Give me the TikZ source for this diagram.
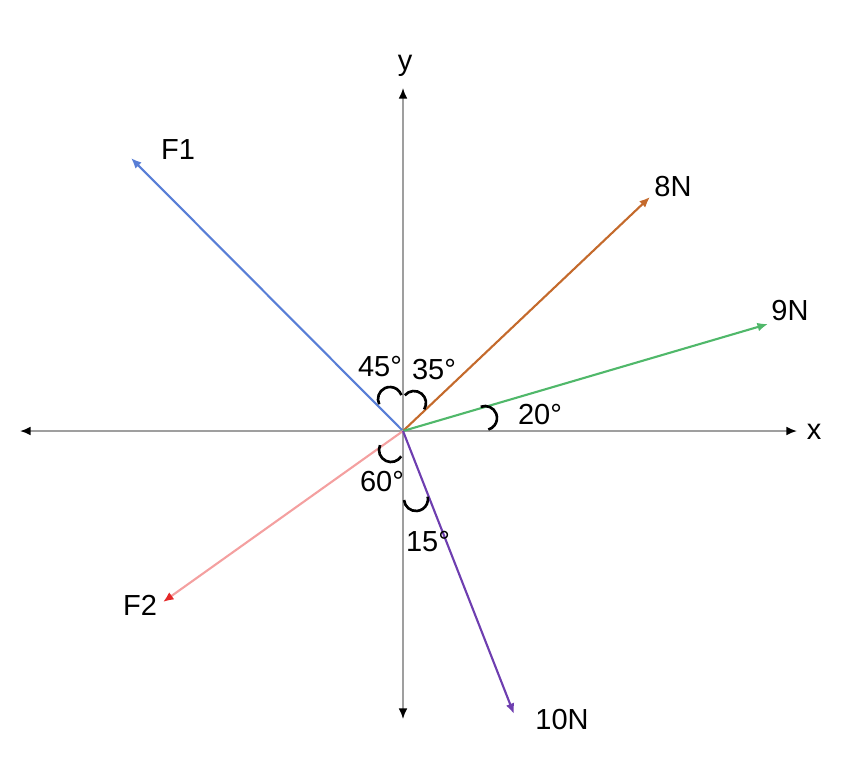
\documentclass[tikz,border=0pt]{standalone}
\usepackage{fontspec}
\setmainfont{Liberation Sans}
\usetikzlibrary{arrows.meta}
\definecolor{fblue}{RGB}{88,126,214}
\definecolor{forange}{RGB}{196,106,44}
\definecolor{fgreen}{RGB}{80,184,106}
\definecolor{fpink}{RGB}{244,160,160}
\definecolor{fred}{RGB}{228,40,40}
\definecolor{fpurple}{RGB}{110,62,176}
\tikzset{
  lbl/.style={inner sep=0pt, font=\fontsize{16.5}{19}\selectfont},
  axis/.style={draw=gray!75, line width=1pt, {Latex[black, length=6pt, width=5pt]}-{Latex[black, length=6pt, width=5pt]}},
  force/.style={line width=1.2pt, -{Latex[length=6pt, width=5pt]}},
  angarc/.style={line width=1.5pt, black}
}
\begin{document}
\begin{tikzpicture}[x=0.02cm, y=0.02cm]
    \useasboundingbox (-403,-341) rectangle (455,431);

    \coordinate (o) at (0,0);
    \coordinate (xl) at (-383,0);
    \coordinate (xr) at (394,0);
    \coordinate (yt) at (0,343);
    \coordinate (yb) at (0,-288);

    \coordinate (f1) at (-272,273);
    \coordinate (f2) at (-240,-171);
    \coordinate (n8) at (247,234);
    \coordinate (n9) at (365,107);
    \coordinate (n10) at (111,-283);

    \draw[axis] (xl) -- (xr);
    \draw[axis] (yb) -- (yt);

    \draw[force, fblue] (o) -- (f1);
    \draw[force, forange] (o) -- (n8);
    \draw[force, fgreen] (o) -- (n9);
    \draw[force, fpink, -{Latex[fred, length=6pt, width=5pt]}] (o) -- (f2);
    \draw[force, fpurple] (o) -- (n10);

    \draw[angarc] ([shift={(206:12)}]-13,32) arc[start angle=206, end angle=19, radius=12];
    \draw[angarc] ([shift={(140:12)}]11,28) arc[start angle=140, end angle=-32, radius=12];
    \draw[angarc] ([shift={(111:12)}]82,13) arc[start angle=111, end angle=-74, radius=12];
    \draw[angarc] ([shift={(156:12)}]-12,-19) arc[start angle=156, end angle=328, radius=12];
    \draw[angarc] ([shift={(185:12)}]13,-68) arc[start angle=185, end angle=371, radius=12];

    \node[lbl] (ylbl) at (2,365) {y};
    \node[lbl] (xlbl) at (411,-1) {x};
    \node[lbl] (f1lbl) at (-225,281) {F1};
    \node[lbl] (n8lbl) at (270,244) {8N};
    \node[lbl] (n9lbl) at (387,120) {9N};
    \node[lbl] (f2lbl) at (-263,-174) {F2};
    \node[lbl] (n10lbl) at (159,-289) {10N};

    \node[lbl] (a45) at (-23,64) {45°};
    \node[lbl] (a35) at (31,61) {35°};
    \node[lbl] (a20) at (137,16) {20°};
    \node[lbl] (a60) at (-21,-51) {60°};
    \node[lbl] (a15) at (25,-111) {15°};
\end{tikzpicture}
\end{document}
